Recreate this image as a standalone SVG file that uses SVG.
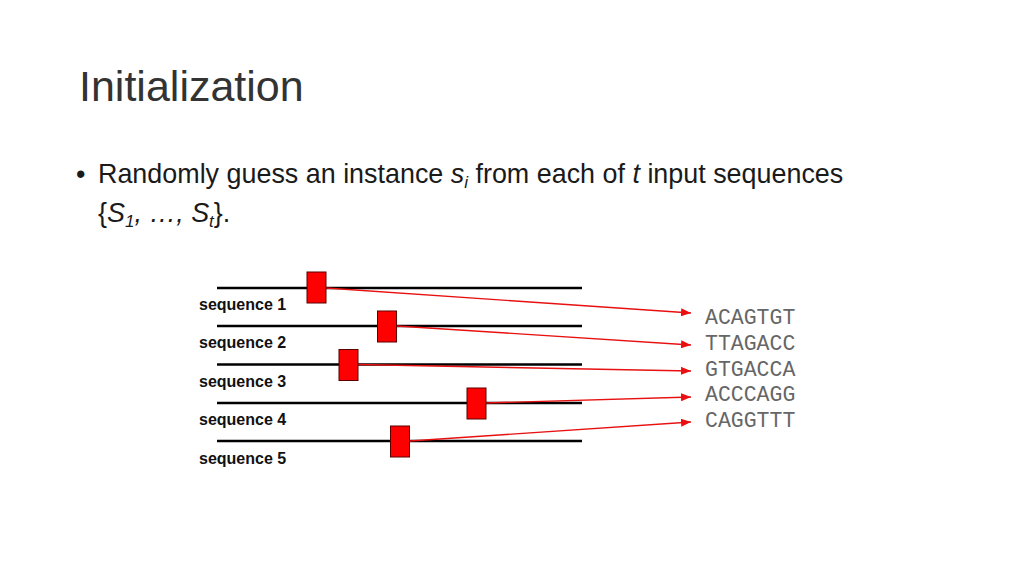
<svg xmlns="http://www.w3.org/2000/svg" width="1024" height="576" viewBox="0 0 1024 576">
<style>
.title{font-family:"Liberation Sans",Arial,sans-serif;font-size:43px;fill:#333}
.body{font-family:"Liberation Sans",Arial,sans-serif;font-size:26.9px;fill:#1a1a1a}
.lbl{font-family:"Liberation Sans",Arial,sans-serif;font-size:16px;font-weight:bold;fill:#111}
.dna{font-family:"Liberation Mono","Courier New",monospace;font-size:21.5px;fill:#666}
.seq{stroke:#000;stroke-width:2.5}
.box{fill:#f00;stroke:#5a0000;stroke-width:1}
.arr{stroke:#e81010;stroke-width:1.4;fill:none;marker-end:url(#ah)}
</style>
<defs>
<marker id="ah" viewBox="0 0 10 8" refX="10" refY="4" markerWidth="10" markerHeight="8" markerUnits="userSpaceOnUse" orient="auto">
<path d="M0,0 L10,4 L0,8 Z" fill="#e81010"/>
</marker>
</defs>
<rect width="1024" height="576" fill="#fff"/>
<text class="title" x="79" y="101">Initialization</text>
<text class="body" x="76" y="183">•</text>
<text class="body" x="98" y="183">Randomly guess an instance <tspan font-style="italic">s</tspan><tspan font-style="italic" font-size="17" dy="5">i</tspan><tspan dy="-5"> from each of </tspan><tspan font-style="italic">t</tspan> input sequences</text>
<text class="body" x="98" y="222">{<tspan font-style="italic">S</tspan><tspan font-style="italic" font-size="17" dy="5">1</tspan><tspan dy="-5" font-style="italic">, …, S</tspan><tspan font-style="italic" font-size="17" dy="5">t</tspan><tspan dy="-5">}.</tspan></text>

<g id="seq1"><line class="seq" x1="217" y1="288" x2="582" y2="288"/><text class="lbl" x="199" y="310">sequence 1</text></g>
<g id="seq2"><line class="seq" x1="217" y1="326" x2="582" y2="326"/><text class="lbl" x="199" y="348">sequence 2</text></g>
<g id="seq3"><line class="seq" x1="217" y1="364.5" x2="582" y2="364.5"/><text class="lbl" x="199" y="387">sequence 3</text></g>
<g id="seq4"><line class="seq" x1="217" y1="403" x2="582" y2="403"/><text class="lbl" x="199" y="425">sequence 4</text></g>
<g id="seq5"><line class="seq" x1="217" y1="441" x2="582" y2="441"/><text class="lbl" x="199" y="464">sequence 5</text></g>

<g id="connectors">
<line class="arr" x1="326" y1="288" x2="691" y2="313"/>
<line class="arr" x1="397" y1="326" x2="691" y2="345"/>
<line class="arr" x1="358" y1="364.5" x2="691" y2="371"/>
<line class="arr" x1="486" y1="403" x2="691" y2="397"/>
<line class="arr" x1="410" y1="441" x2="691" y2="422"/>
</g>

<g id="box1"><rect class="box" x="307" y="272" width="19" height="31"/></g>
<g id="box2"><rect class="box" x="377.5" y="311" width="19" height="31"/></g>
<g id="box3"><rect class="box" x="339" y="349.5" width="19" height="31"/></g>
<g id="box4"><rect class="box" x="467" y="388" width="19" height="31"/></g>
<g id="box5"><rect class="box" x="390.5" y="426" width="19" height="31"/></g>

<g id="motifs">
<text class="dna" x="705" y="324">ACAGTGT</text>
<text class="dna" x="705" y="350">TTAGACC</text>
<text class="dna" x="705" y="376">GTGACCA</text>
<text class="dna" x="705" y="401">ACCCAGG</text>
<text class="dna" x="705" y="427">CAGGTTT</text>
</g>
</svg>
